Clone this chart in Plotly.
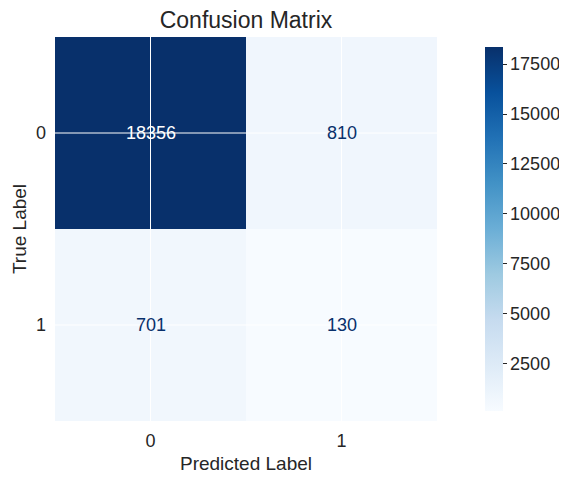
import plotly.graph_objects as go
import plotly.colors as pc

classes = [0, 1]
matrix = [[18356, 810],
          [701, 130]]
cbar_ticks = [2500, 5000, 7500, 10000, 12500, 15000, 17500]

font_family = "Liberation Sans, Arial, sans-serif"
dark = "#262626"

# page has an 8px body margin; figure sized to fit the 567x482 window
W, H = 559, 474
L, T, R, B = 47, 29, 130, 61

zmin = min(min(r) for r in matrix)
zmax = max(max(r) for r in matrix)

fig = go.Figure()
fig.add_trace(go.Heatmap(
    z=matrix, x=classes, y=classes,
    colorscale=pc.sequential.Blues,
    zmin=zmin, zmax=zmax,
    xgap=0, ygap=0,
    colorbar=dict(
        x=1.0995, xanchor="left", xref="paper",
        y=0, yanchor="bottom", len=1, lenmode="fraction",
        thickness=18, outlinewidth=0,
        tickvals=cbar_ticks, ticktext=[str(t) for t in cbar_ticks],
        ticks="outside", ticklen=4, tickwidth=1,
        tickcolor=dark,
        tickfont=dict(size=18, color=dark, family=font_family),
    ),
    hoverinfo="skip",
))

thresh = (zmin + zmax) / 2
for i, row in enumerate(matrix):
    for j, v in enumerate(row):
        fig.add_annotation(
            x=classes[j], y=classes[i], text=str(v), showarrow=False,
            font=dict(size=18, family=font_family,
                      color="white" if v > thresh else "rgb(8,48,107)"),
        )

# white grid lines over the heatmap at the tick positions
for c in classes:
    fig.add_shape(type="line", xref="x", yref="paper", x0=c, x1=c, y0=0, y1=1,
                  line=dict(color="white", width=1), layer="above")
    fig.add_shape(type="line", xref="paper", yref="y", x0=0, x1=1, y0=c, y1=c,
                  line=dict(color="white", width=1), layer="above")

fig.update_layout(
    width=W, height=H,
    margin=dict(l=L, r=R, t=T, b=B, autoexpand=False),
    paper_bgcolor="white", plot_bgcolor="white",
    font=dict(family=font_family, color=dark),
    title=dict(text="Confusion Matrix", x=(L + (W - R)) / 2 / W, xanchor="center",
               y=1 - 12 / H, yanchor="middle",
               font=dict(size=23, color=dark, family=font_family)),
    xaxis=dict(
        tickvals=classes, ticktext=[str(c) for c in classes],
        range=[-0.5, 1.5], showgrid=False, zeroline=False, showline=False,
        tickfont=dict(size=18, color=dark), ticks="", ticklabelstandoff=7,
        title=dict(text="Predicted Label", font=dict(size=19, color=dark), standoff=6),
        automargin=False,
    ),
    yaxis=dict(
        tickvals=classes, ticktext=[str(c) for c in classes],
        range=[1.5, -0.5], showgrid=False, zeroline=False, showline=False,
        tickfont=dict(size=18, color=dark), ticks="", ticklabelstandoff=8,
        title=dict(text="True Label", font=dict(size=19, color=dark), standoff=4),
        automargin=False,
    ),
)

fig.write_html("out.html")
